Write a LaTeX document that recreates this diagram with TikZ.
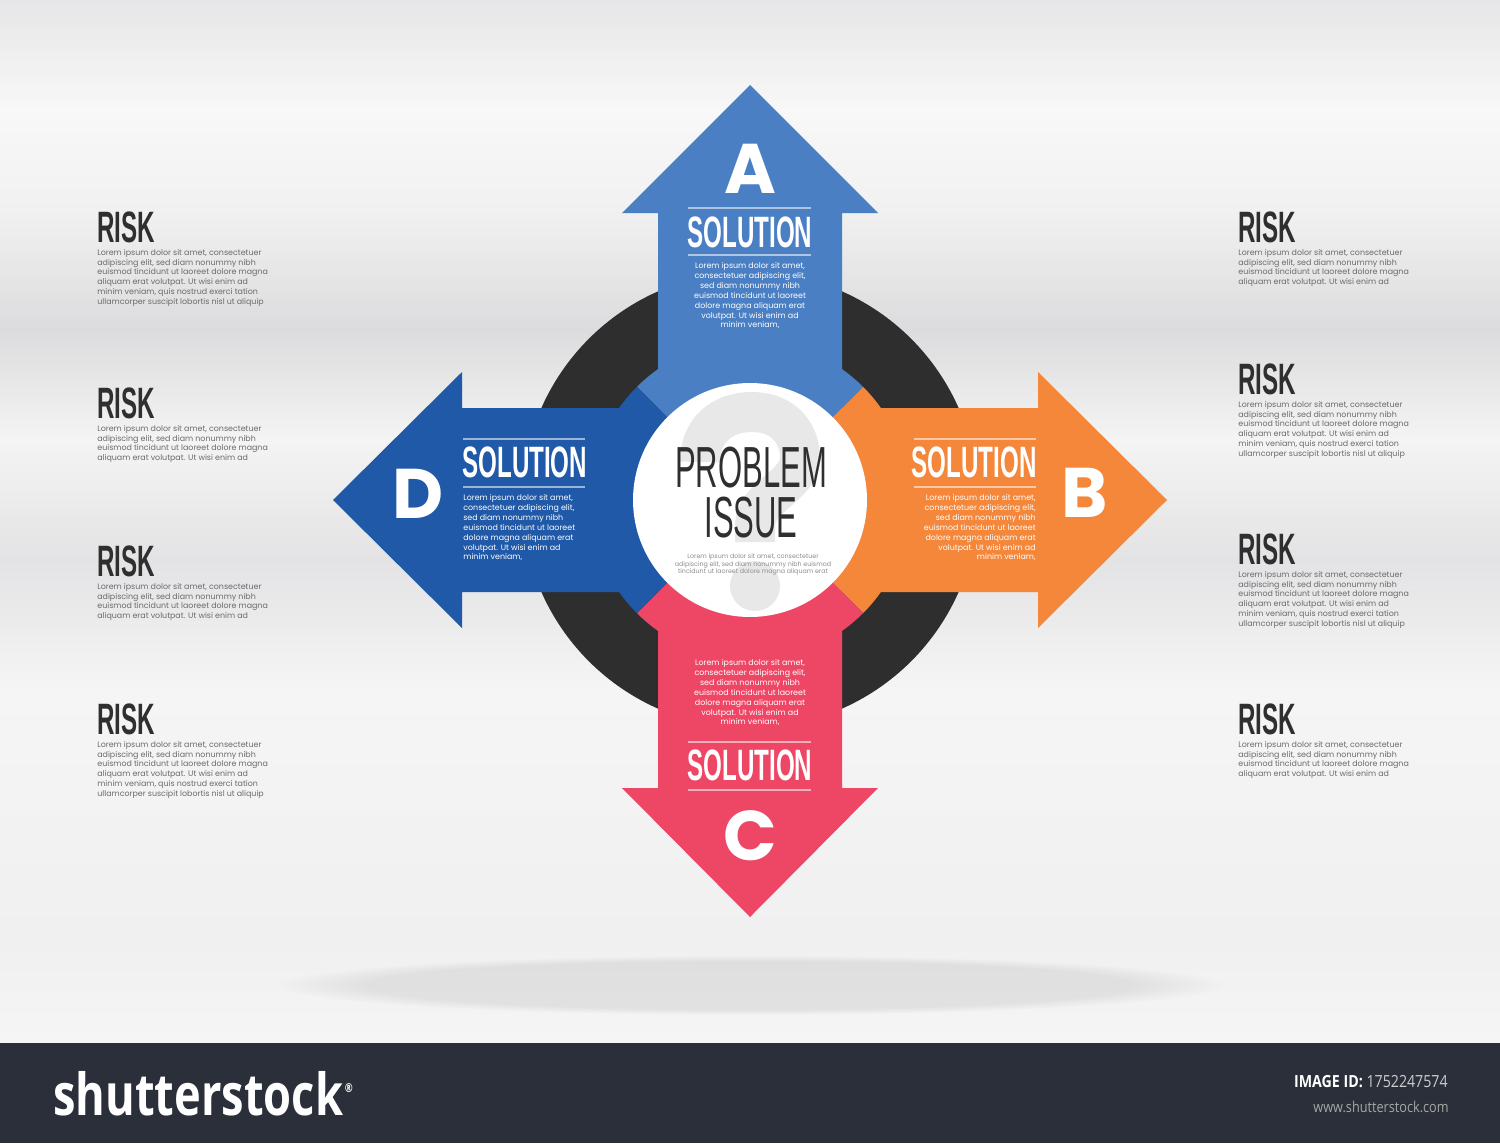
\documentclass[tikz,border=0pt]{standalone}
\usepackage{fontspec}
\setmainfont{Poppins}
\newfontfamily\condbold[FakeStretch=0.55]{Liberation Sans}
\newfontfamily\condreg[FakeStretch=0.535]{Liberation Sans}
\newfontfamily\footfont[FakeStretch=0.78]{Open Sans}
\newfontfamily\footsmall[FakeStretch=0.85]{Open Sans}
\usetikzlibrary{fadings}
\definecolor{cA}{HTML}{4A7FC3}
\definecolor{cB}{HTML}{F5873B}
\definecolor{cC}{HTML}{EE4766}
\definecolor{cD}{HTML}{2059A8}
\definecolor{ringc}{HTML}{2E2E2E}
\definecolor{ink}{HTML}{2F2F2F}
\definecolor{greytext}{HTML}{6A6A6A}
\definecolor{footbg}{HTML}{2A2F3A}
\definecolor{qcol}{HTML}{E8E8E8}
\definecolor{bgA}{HTML}{E6E6E8}
\definecolor{bgB}{HTML}{F8F8F8}
\definecolor{bgC}{HTML}{F1F1F1}
\definecolor{bgD}{HTML}{DCDCDE}
\definecolor{bgE}{HTML}{F4F4F4}
\definecolor{bgF}{HTML}{E3E3E5}
\definecolor{bgG}{HTML}{F5F5F5}
\definecolor{bgH}{HTML}{F0F0F0}
\newcommand{\myArmText}{Lorem ipsum dolor sit amet,\\consectetuer adipiscing elit,\\sed diam nonummy nibh\\euismod tincidunt ut laoreet\\dolore magna aliquam erat\\volutpat. Ut wisi enim ad\\minim veniam,}
\newcommand{\myRiskSix}{Lorem ipsum dolor sit amet, consectetuer\\adipiscing elit, sed diam nonummy nibh\\euismod tincidunt ut laoreet dolore magna\\aliquam erat volutpat. Ut wisi enim ad\\minim veniam, quis nostrud exerci tation\\ullamcorper suscipit lobortis nisl ut aliquip}
\newcommand{\myRiskFour}{Lorem ipsum dolor sit amet, consectetuer\\adipiscing elit, sed diam nonummy nibh\\euismod tincidunt ut laoreet dolore magna\\aliquam erat volutpat. Ut wisi enim ad}
\tikzset{
  risktitle/.style={anchor=base west, inner sep=0pt, text=ink, font={\condbold\bfseries\fontsize{25}{25}\selectfont}},
  risktext/.style={anchor=north west, inner sep=0pt, align=left, text=greytext, font={\fontsize{4.5}{5.55}\selectfont}},
  soltitle/.style={inner sep=0pt, text=white, font={\condbold\bfseries\fontsize{25}{25}\selectfont}},
  bigletter/.style={anchor=base, inner sep=0pt, text=white, font={\bfseries\fontsize{40}{40}\selectfont}},
  armtext/.style={inner sep=0pt, text=white, font={\fontsize{4.5}{5.65}\selectfont}},
  solrule/.style={draw=white, draw opacity=0.55, line width=0.8pt},
  problem/.style={anchor=north, inner sep=0pt, align=center, text=ink, font={\condreg\fontsize{33}{28.3}\selectfont}},
}
\begin{document}
\begin{tikzpicture}[x=0.02cm,y=-0.02cm]
\useasboundingbox (0,0) rectangle (1500,1143);
% background bands
\shade[top color=bgA, bottom color=bgB] (0,0) rectangle (1500,110);
\shade[top color=bgB, bottom color=bgC] (0,110) rectangle (1500,210);
\shade[top color=bgC, bottom color=bgD] (0,210) rectangle (1500,330);
\shade[top color=bgD, bottom color=bgE] (0,330) rectangle (1500,440);
\shade[top color=bgE, bottom color=bgF] (0,440) rectangle (1500,560);
\shade[top color=bgF, bottom color=bgG] (0,560) rectangle (1500,690);
\shade[top color=bgG, bottom color=bgH] (0,690) rectangle (1500,940);
\shade[top color=bgH, bottom color=bgG] (0,940) rectangle (1500,1043);
\fill[black, opacity=0.07, path fading=circle with fuzzy edge 20 percent] (750,985) ellipse (9.5cm and 0.6cm);

% dark ring
\fill[ringc] (750,500) circle (4.56cm);
% coloured disk quadrants
\begin{scope}
  \clip (750,500) circle (3.2cm);
  \fill[cA] (750,500) -- (500,250) -- (1000,250) -- cycle;
  \fill[cB] (750,500) -- (1000,250) -- (1000,750) -- cycle;
  \fill[cC] (750,500) -- (1000,750) -- (500,750) -- cycle;
  \fill[cD] (750,500) -- (500,750) -- (500,250) -- cycle;
\end{scope}
% arrows
\fill[cA] (750,500) -- (658,408) -- (658,213) -- (622,213) -- (750,85) -- (878,213) -- (842,213) -- (842,408) -- cycle;
\fill[cB] (750,500) -- (842,408) -- (1038,408) -- (1038,372) -- (1167,500) -- (1038,628) -- (1038,592) -- (842,592) -- cycle;
\fill[cC] (750,500) -- (842,592) -- (842,788) -- (878,788) -- (750,917) -- (622,788) -- (658,788) -- (658,592) -- cycle;
\fill[cD] (750,500) -- (658,592) -- (462,592) -- (462,628) -- (333,500) -- (462,372) -- (462,408) -- (658,408) -- cycle;

% centre
\fill[white] (750,500) circle (2.34cm);
\begin{scope}
  \clip (750,500) circle (2.34cm);
  \draw[qcol, line width=0.8cm] (700,462) .. controls (700,430) and (722,412) .. (752,412)
    .. controls (782,412) and (800,432) .. (800,458)
    .. controls (800,486) and (755,496) .. (755,526) -- (755,542);
  \fill[qcol] (755,586) circle (0.5cm);
\end{scope}
\node[problem] (problem) at (751,447) {PROBLEM\\ISSUE};
\node[anchor=north, inner sep=0pt, align=center, text=black!45, font={\fontsize{3.6}{4.5}\selectfont}] (centretext) at (753,553)
  {Lorem ipsum dolor sit amet, consectetuer\\adipiscing elit, sed diam nonummy nibh euismod\\tincidunt ut laoreet dolore magna aliquam erat};

% arrow A
\node[bigletter] (letA) at (750,193) {A};
\draw[solrule] (688,208) -- (811,208);
\node[soltitle, anchor=base] (solA) at (750,247) {SOLUTION};
\draw[solrule] (688,255) -- (811,255);
\node[armtext, anchor=north, align=center] (txtA) at (750,262) {\myArmText};

% arrow B
\draw[solrule] (914,439) -- (1036,439);
\node[soltitle, anchor=base east] (solB) at (1037,477) {SOLUTION};
\draw[solrule] (914,487) -- (1036,487);
\node[armtext, anchor=north east, align=right] (txtB) at (1036,494) {\myArmText};
\node[bigletter] (letB) at (1085,517) {B};

% arrow C
\node[armtext, anchor=north, align=center] (txtC) at (750,659) {\myArmText};
\draw[solrule] (688,742) -- (811,742);
\node[soltitle, anchor=base] (solC) at (750,780) {SOLUTION};
\draw[solrule] (688,790) -- (811,790);
\node[bigletter] (letC) at (750,860) {C};

% arrow D
\draw[solrule] (463,439) -- (585,439);
\node[soltitle, anchor=base west] (solD) at (462,477) {SOLUTION};
\draw[solrule] (463,487) -- (585,487);
\node[armtext, anchor=north west, align=left] (txtD) at (463,494) {\myArmText};
\node[bigletter] (letD) at (418,518) {D};

% left risk blocks
\node[risktitle] (rl1) at (97,242) {RISK};
\node[risktext] (rl1t) at (97,249) {\myRiskSix};
\node[risktitle] (rl2) at (97,418) {RISK};
\node[risktext] (rl2t) at (97,425) {\myRiskFour};
\node[risktitle] (rl3) at (97,576) {RISK};
\node[risktext] (rl3t) at (97,583) {\myRiskFour};
\node[risktitle] (rl4) at (97,734) {RISK};
\node[risktext] (rl4t) at (97,741) {\myRiskSix};

% right risk blocks
\node[risktitle] (rr1) at (1238,242) {RISK};
\node[risktext] (rr1t) at (1238,249) {\myRiskFour};
\node[risktitle] (rr2) at (1238,394) {RISK};
\node[risktext] (rr2t) at (1238,401) {\myRiskSix};
\node[risktitle] (rr3) at (1238,564) {RISK};
\node[risktext] (rr3t) at (1238,571) {\myRiskSix};
\node[risktitle] (rr4) at (1238,734) {RISK};
\node[risktext] (rr4t) at (1238,741) {\myRiskFour};

% footer
\fill[footbg] (0,1043) rectangle (1500,1143);
\node[anchor=base west, inner sep=0pt, text=white, font={\footfont\bfseries\fontsize{33}{33}\selectfont}] (logo) at (53,1115) {shutterstock\hspace{1pt}{\fontsize{7}{7}\selectfont\raisebox{13pt}{®}}};
\node[anchor=base east, inner sep=0pt, text=white, font={\footsmall\fontsize{9.5}{9.5}\selectfont}] (imgid) at (1448,1087) {\textbf{IMAGE ID:} {\color{white!80!black}1752247574}};
\node[anchor=base east, inner sep=0pt, text=white!65!black, font={\footsmall\fontsize{8.5}{8.5}\selectfont}] (www) at (1449,1112) {www.shutterstock.com};
\end{tikzpicture}
\end{document}
